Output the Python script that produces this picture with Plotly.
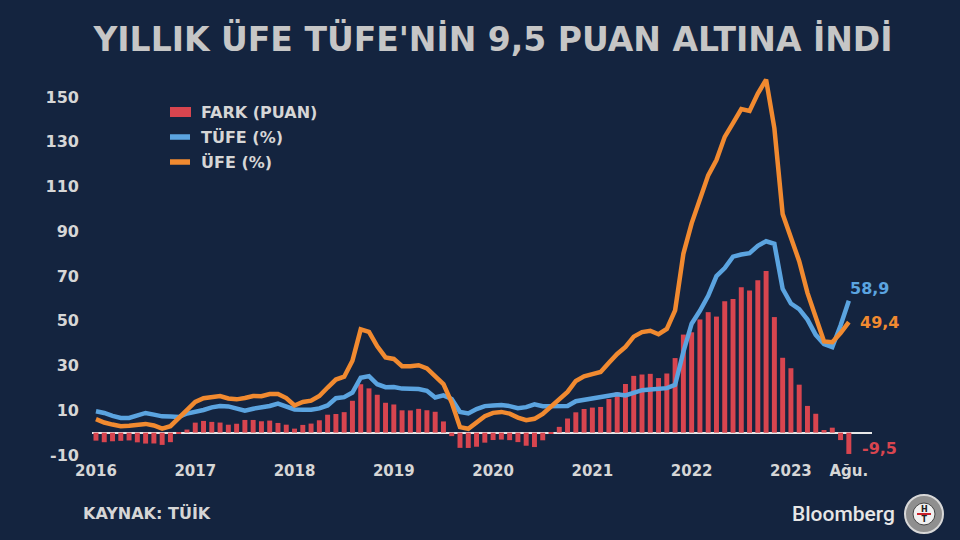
import plotly.graph_objects as go

# Monthly data, Jan 2016 - Aug 2023
TUFE = [
    9.58, 8.78, 7.46, 6.57, 6.58, 7.64, 8.79, 8.05, 7.28, 7.16, 7.00, 8.53,
    9.22, 10.13, 11.29, 11.87, 11.72, 10.90, 9.79, 10.68, 11.20, 11.90, 12.98, 11.92,
    10.35, 10.26, 10.23, 10.85, 12.15, 15.39, 15.85, 17.90, 24.52, 25.24, 21.62, 20.30,
    20.35, 19.67, 19.71, 19.50, 18.71, 15.72, 16.65, 15.01, 9.26, 8.55, 10.56, 11.84,
    12.15, 12.37, 11.86, 10.94, 11.39, 12.62, 11.76, 11.77, 11.75, 11.89, 14.03, 14.60,
    14.97, 15.61, 16.19, 17.14, 16.59, 17.53, 18.95, 19.25, 19.58, 19.89, 21.31, 36.08,
    48.69, 54.44, 61.14, 69.97, 73.50, 78.62, 79.60, 80.21, 83.45, 85.51, 84.39, 64.27,
    57.68, 55.18, 50.51, 43.68, 39.59, 38.21, 47.83, 58.94,
]
UFE = [
    6.0, 4.5, 3.6, 2.9, 3.1, 3.3, 3.9, 3.2, 1.8, 2.9, 6.4, 9.9,
    13.69, 15.36, 16.09, 16.37, 15.26, 14.87, 15.45, 16.34, 16.28, 17.28, 17.30, 15.47,
    12.14, 13.71, 14.28, 16.37, 20.16, 23.71, 25.00, 32.13, 46.15, 45.01, 38.54, 33.64,
    32.93, 29.64, 29.64, 30.12, 28.71, 25.04, 21.66, 13.45, 2.45, 1.70, 4.26, 7.36,
    8.84, 9.26, 8.50, 6.71, 5.53, 6.17, 8.33, 11.53, 14.33, 18.20, 23.11, 25.15,
    26.16, 27.09, 31.20, 35.17, 38.33, 42.89, 44.92, 45.52, 43.96, 46.31, 54.62, 79.89,
    93.53, 105.01, 114.97, 121.82, 132.16, 138.31, 144.61, 143.75, 151.50, 157.69, 136.02, 97.72,
    86.46, 76.61, 62.45, 52.11, 40.76, 40.42, 44.50, 49.41,
]
FARK = [round(u - t, 2) for u, t in zip(UFE, TUFE)]
MONTHS = list(range(len(TUFE)))

X_TICK_POS = [0, 12, 24, 36, 48, 60, 72, 84, 91]
X_TICK_TEXT = ["2016", "2017", "2018", "2019", "2020", "2021", "2022", "2023", "Ağu."]
Y_TICKS = [-10, 10, 30, 50, 70, 90, 110, 130, 150]
Y_TICK_TEXT = ["-10", "10", "30", "50", "70", "90", "110", "130", "150"]
SERIES_NAMES = ["FARK (PUAN)", "TÜFE (%)", "ÜFE (%)"]

BG = "#14243f"
TXT = "#d6d6d6"
RED = "#d8454f"
BLUE = "#5ba4e0"
ORANGE = "#f18a30"
FONT = "DejaVu Sans"

# pixel -> paper helpers (plot area: x 92..872, y 60..460)
def px(x):
    return (x - 92) / 780.0

def py(y):
    return (460 - y) / 400.0

fig = go.Figure()
fig.add_trace(go.Bar(x=MONTHS, y=FARK, name=SERIES_NAMES[0], marker_color=RED,
                     marker_line_width=0, width=0.6))
fig.add_trace(go.Scatter(x=MONTHS, y=TUFE, name=SERIES_NAMES[1], mode="lines",
                         line=dict(color=BLUE, width=4.5)))
fig.add_trace(go.Scatter(x=MONTHS, y=UFE, name=SERIES_NAMES[2], mode="lines",
                         line=dict(color=ORANGE, width=4.5)))

last = len(TUFE) - 1
fig.add_annotation(x=last, y=TUFE[last], text="<b>58,9</b>", showarrow=False,
                   xanchor="left", yanchor="middle", xshift=-1, yshift=12,
                   font=dict(family=FONT, size=16, color=BLUE))
fig.add_annotation(x=last, y=UFE[last], text="<b>49,4</b>", showarrow=False,
                   xanchor="left", yanchor="middle", xshift=9, yshift=0,
                   font=dict(family=FONT, size=16, color=ORANGE))
fig.add_annotation(x=last, y=FARK[last], text="<b>-9,5</b>", showarrow=False,
                   xanchor="left", yanchor="middle", xshift=11, yshift=5,
                   font=dict(family=FONT, size=16, color=RED))

# legend (drawn manually to match the wide swatches)
fig.add_shape(type="rect", xref="paper", yref="paper",
              x0=px(170), x1=px(191), y0=py(117), y1=py(107),
              fillcolor=RED, line_width=0)
for yy, col in ((137, BLUE), (162, ORANGE)):
    fig.add_shape(type="line", xref="paper", yref="paper",
                  x0=px(170), x1=px(190), y0=py(yy), y1=py(yy),
                  line=dict(color=col, width=5.5))
for yy, name in zip((112, 137, 162), SERIES_NAMES):
    fig.add_annotation(xref="paper", yref="paper", x=px(199), y=py(yy),
                       text="<b>" + name + "</b>", showarrow=False,
                       xanchor="left", yanchor="middle",
                       font=dict(family=FONT, size=16, color=TXT))

# source & branding
fig.add_annotation(xref="paper", yref="paper", x=px(81), y=py(513),
                   text="<b>KAYNAK: TÜİK</b>", showarrow=False, xanchor="left",
                   yanchor="middle", font=dict(family=FONT, size=16, color=TXT))
fig.add_annotation(xref="paper", yref="paper", x=px(897), y=py(514),
                   text="Bloomberg", showarrow=False, xanchor="right",
                   yanchor="middle", font=dict(family="Roboto", size=21,
                                               color="#e6e6e6", weight=500))
fig.add_shape(type="circle", xref="paper", yref="paper",
              x0=px(905), x1=px(943), y0=py(533), y1=py(495),
              fillcolor="#8f8f8f", line=dict(color="#d8d8d8", width=2))
fig.add_shape(type="circle", xref="paper", yref="paper",
              x0=px(913), x1=px(935), y0=py(525), y1=py(503),
              fillcolor="#f0f0f0", line=dict(color="#444444", width=1))
fig.add_shape(type="line", xref="paper", yref="paper",
              x0=px(917), x1=px(931), y0=py(514), y1=py(514),
              line=dict(color="#c8202a", width=2))
fig.add_annotation(xref="paper", yref="paper", x=px(924), y=py(514),
                   text="<b>H</b><br><b>T</b>", showarrow=False,
                   xanchor="center", yanchor="middle",
                   font=dict(family=FONT, size=8, color="#222222"))

fig.update_layout(
    width=960, height=540,
    paper_bgcolor=BG, plot_bgcolor=BG,
    margin=dict(l=92, r=88, t=60, b=80),
    title=dict(text="<b>YILLIK ÜFE TÜFE'NİN 9,5 PUAN ALTINA İNDİ</b>",
               x=493 / 960, xanchor="center", y=1 - 39 / 540, yanchor="middle",
               font=dict(family=FONT, size=33, color="#c6c6c6")),
    showlegend=False,
    bargap=0.3,
    hovermode=False,
)
fig.update_xaxes(range=[-0.48, 93.8], tickvals=X_TICK_POS, ticktext=X_TICK_TEXT,
                 showgrid=False, zeroline=False, showline=False, ticks="",
                 tickfont=dict(family=FONT, size=15, color=TXT, weight="bold"))
fig.update_yaxes(range=[-12.23, 166.5], tickvals=Y_TICKS, ticktext=Y_TICK_TEXT,
                 showgrid=False,
                 zeroline=True, zerolinecolor="#e8e8e8", zerolinewidth=1.5,
                 showline=False, ticks="", ticklabelstandoff=12,
                 tickfont=dict(family=FONT, size=16, color=TXT, weight="bold"))

fig.write_html("out.html")
